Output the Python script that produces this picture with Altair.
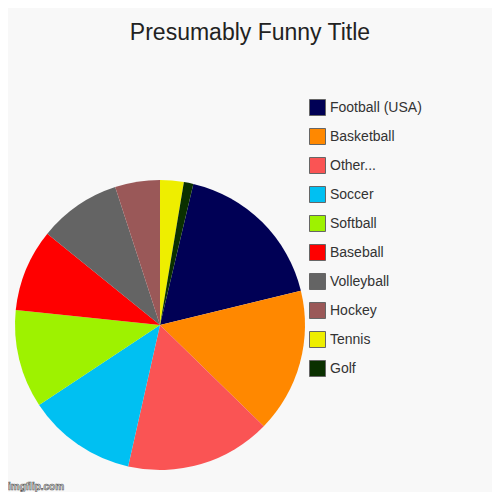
import math
import altair as alt
import pandas as pd

sports = ["Football (USA)", "Basketball", "Other...", "Soccer", "Softball",
          "Baseball", "Volleyball", "Hockey", "Tennis", "Golf"]
values = [63.0, 58.0, 58.4, 43.8, 39.4, 33.1, 33.0, 18.0, 9.5, 3.8]
colors = ["#000055", "#ff8800", "#fa5454", "#00c0f2", "#9ef200",
          "#ff0000", "#646464", "#9a5858", "#eeee00", "#0a3000"]

df = pd.DataFrame({"sport": sports, "value": values, "idx": list(range(len(sports)))})

start = math.radians(13.3)

pie = alt.Chart(df).mark_arc(radius=145, stroke=None).encode(
    theta=alt.Theta("value:Q", stack=True,
                    scale=alt.Scale(range=[start, start + 2 * math.pi])),
    order=alt.Order("idx:Q"),
    color=alt.Color("sport:N",
                    scale=alt.Scale(domain=sports, range=colors),
                    legend=alt.Legend(orient="none", legendX=301, legendY=91,
                                      title=None, symbolType="square",
                                      symbolSize=256, symbolStrokeColor="#666",
                                      symbolStrokeWidth=1, symbolOpacity=1,
                                      labelFontSize=14, labelFont="Liberation Sans",
                                      labelColor="#333", rowPadding=8,
                                      labelOffset=4, padding=0)),
    x=alt.value(152),
    y=alt.value(317),
)

wm = alt.Chart(pd.DataFrame({"t": ["imgflip.com"]})).mark_text(
    align="left", baseline="alphabetic", fontSize=10, fontWeight="bold",
    font="Liberation Sans", fill="#eeeeee", stroke="#555555", strokeWidth=0.6
).encode(text="t:N", x=alt.value(0), y=alt.value(482))

chart = alt.layer(pie, wm).properties(
    width=484, height=484,
    autosize=alt.AutoSizeParams(type="none"),
    padding=0,
    background="#f8f8f8",
    title=alt.TitleParams("Presumably Funny Title", fontSize=23,
                          font="Liberation Sans", fontWeight="normal",
                          color="#222222", anchor="middle", offset=-37),
).configure_view(stroke=None)

chart.save("out.html", embed_options={"renderer": "svg", "actions": False})
